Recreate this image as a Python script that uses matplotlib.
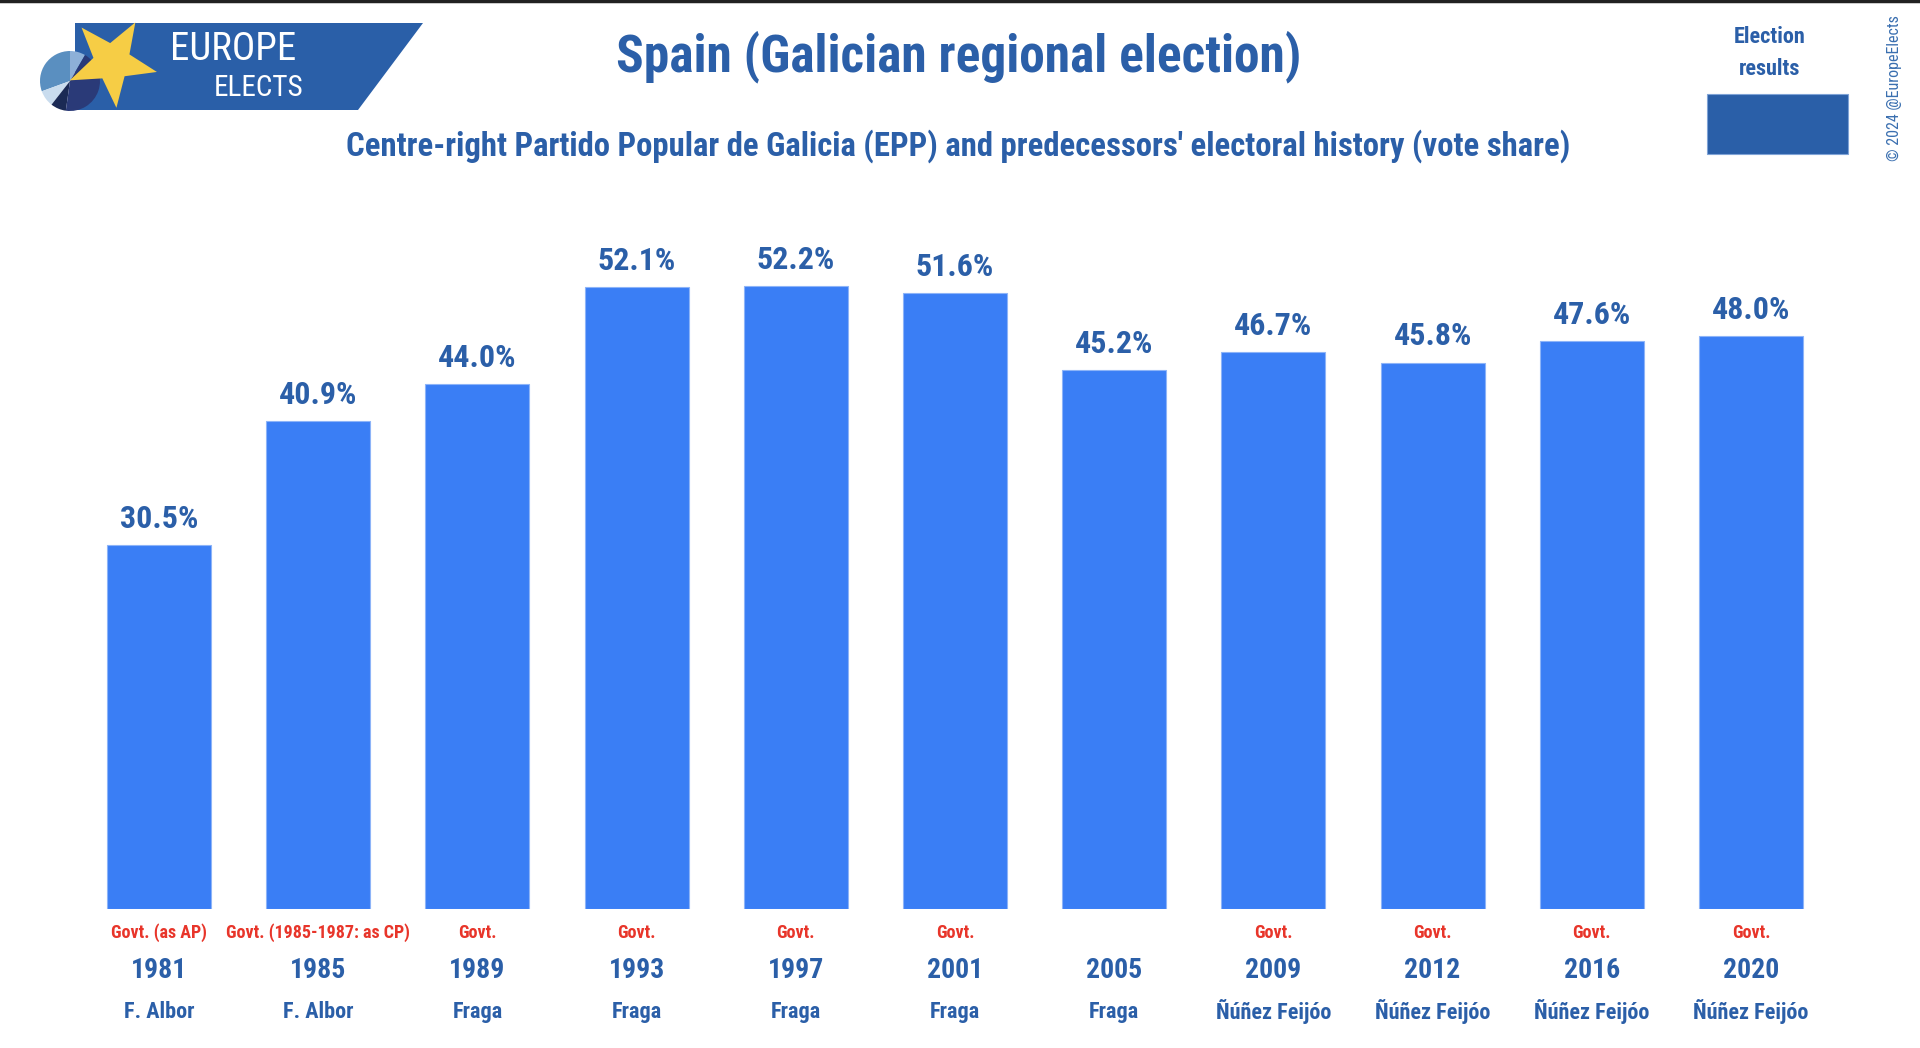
import matplotlib
matplotlib.use("Agg")
import matplotlib.pyplot as plt
from matplotlib import font_manager
from matplotlib.patches import Polygon, Wedge, Rectangle
from matplotlib.transforms import blended_transform_factory
import numpy as np

# ---------------- data ----------------
years = ["1981", "1985", "1989", "1993", "1997", "2001", "2005", "2009", "2012", "2016", "2020"]
vote_share = [30.5, 40.9, 44.0, 52.1, 52.2, 51.6, 45.2, 46.7, 45.8, 47.6, 48.0]
govt_notes = ["Govt. (as AP)", "Govt. (1985-1987: as CP)", "Govt.", "Govt.", "Govt.", "Govt.",
              "", "Govt.", "Govt.", "Govt.", "Govt."]
leaders = ["F. Albor", "F. Albor", "Fraga", "Fraga", "Fraga", "Fraga", "Fraga",
           "Ñúñez Feijóo", "Ñúñez Feijóo", "Ñúñez Feijóo", "Ñúñez Feijóo"]
title = "Spain (Galician regional election)"
subtitle = "Centre-right Partido Popular de Galicia (EPP) and predecessors' electoral history (vote share)"
legend_label = "Election\nresults"

# ---------------- style ----------------
available = {f.name for f in font_manager.fontManager.ttflist}
FONT = "DejaVu Sans"
for cand in ["Liberation Sans Narrow", "DejaVu Sans Condensed", "Roboto Condensed", "Open Sans Condensed"]:
    if cand in available:
        FONT = cand
        break
plt.rcParams['font.family'] = [FONT, 'DejaVu Sans']

BAR = "#3A7EF5"
DARK = "#2B5FA8"
RED = "#E8352A"

W, H = 1920, 1048
fig = plt.figure(figsize=(W / 100, H / 100), dpi=100)
fig.patch.set_facecolor("white")

# axes geometry: bar centre i -> pixel 159 + 159.2*i ; value 0 -> pixel row 909, 1% = 11.93px
spacing = 159.2
x0 = 159.0
xmin = -x0 / spacing
xmax = xmin + W / spacing
base_row = 909
ppp = 11.93
ax = fig.add_axes([0, (H - base_row) / H, 1, base_row / H])
ax.set_xlim(xmin, xmax)
ax.set_ylim(0, base_row / ppp)
ax.axis("off")

xs = np.arange(len(years))
ax.bar(xs, vote_share, width=104 / spacing, color=BAR, edgecolor="#8DB4F8", linewidth=0.8)
for x, v in zip(xs, vote_share):
    ax.annotate(f"{v:.1f}%", (x, v), xytext=(0, 8), textcoords="offset points",
                ha="center", va="bottom", fontsize=23, fontweight="bold", color=DARK)

tr = blended_transform_factory(ax.transData, fig.transFigure)
for x, g, y, l in zip(xs, govt_notes, years, leaders):
    if g:
        fig.text(x, 1 - 933 / H, g, transform=tr, ha="center", va="center",
                 fontsize=13, fontweight="bold", color=RED)
    fig.text(x, 1 - 971 / H, y, transform=tr, ha="center", va="center",
             fontsize=20, fontweight="bold", color=DARK)
    fig.text(x, 1 - 1012 / H, l, transform=tr, ha="center", va="center",
             fontsize=16, fontweight="bold", color=DARK)

# titles
fig.text(959 / W, 1 - 57 / H, title, ha="center", va="center", fontsize=37,
         fontweight="bold", color=DARK)
fig.text(958 / W, 1 - 146 / H, subtitle, ha="center", va="center", fontsize=23.6,
         fontweight="bold", color=DARK)

# legend
fig.text(1770 / W, 1 - 53 / H, legend_label, ha="center", va="center", fontsize=16,
         fontweight="bold", color=DARK, linespacing=1.55)
fig.add_artist(Rectangle((1707 / W, 1 - 154 / H), 141 / W, 60 / H, transform=fig.transFigure,
                         facecolor="#2A5FA8", edgecolor="#7FA3D6", linewidth=0.8))

# copyright
fig.text(1894 / W, 1 - 88 / H, "© 2024 @EuropeElects", rotation=90, ha="center", va="center",
         fontsize=11.5, color="#3A6FB0")

# top border line
fig.add_artist(plt.Line2D([0, 1], [1 - 1 / H, 1 - 1 / H], transform=fig.transFigure,
                          color="#222222", linewidth=2.5))

# logo (pixel coords via overlay axes, y downwards)
lax = fig.add_axes([0, 0, 1, 1], zorder=5)
lax.set_xlim(0, W)
lax.set_ylim(H, 0)
lax.axis("off")
lax.add_patch(Polygon([(75, 23), (423, 23), (358, 110), (75, 110)], closed=True,
                      facecolor="#2A5FA8", edgecolor="none", zorder=1))
# pie (screen angles, counter-clockwise from east)
cx, cy, r = 70, 81, 30
pie_parts = [(60, 90, "#8DB0D8"), (90, 200, "#5A8FC0"), (200, 232, "#C9DCEE"),
             (232, 262, "#1B2A55"), (262, 420, "#2A3A78")]
for a1, a2, c in pie_parts:
    lax.add_patch(Wedge((cx, cy), r, -a2, -a1, facecolor=c, edgecolor="none", zorder=2))
# star
ang = np.deg2rad(-59.5 + np.arange(10) * 36)
rad = np.where(np.arange(10) % 2 == 0, 46, 19)
star = np.column_stack([112 + rad * np.cos(ang), 62 + rad * np.sin(ang)])
lax.add_patch(Polygon(star, closed=True, facecolor="#F6CD45", edgecolor="none", zorder=3))
lax.text(233, 49, "EUROPE", ha="center", va="center", fontsize=28, color="white", zorder=4)
lax.text(259, 88, "ELECTS", ha="center", va="center", fontsize=21, color="white", zorder=4)

fig.savefig("out.png", dpi=100, facecolor="white")
